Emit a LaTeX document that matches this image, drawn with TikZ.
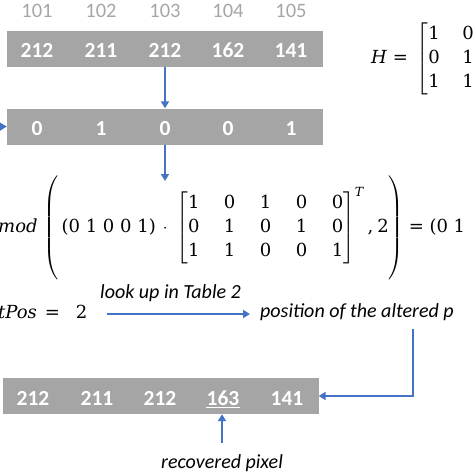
\documentclass[tikz,border=0pt]{standalone}
\usepackage{amsmath}
\usepackage{fontspec}
\setmainfont{Carlito}
\newfontfamily\mf{DejaVu Serif}
\newcommand\mi[1]{\text{\mf\itshape #1}}
\newcommand\tx[1]{\text{\mf #1}}
\usetikzlibrary{arrows.meta}
\definecolor{bargray}{HTML}{A5A5A5}
\definecolor{labgray}{HTML}{A6A6A6}
\definecolor{arrblue}{HTML}{4472C4}
\begin{document}
\begin{tikzpicture}[x=1pt,y=-1pt,
  bar/.style={fill=bargray, minimum width=316pt, minimum height=36pt, inner sep=0pt},
  barnum/.style={text=white, font=\bfseries\fontsize{21.5}{25}\selectfont, inner sep=0pt, anchor=base},
  idx/.style={text=labgray, font=\fontsize{20.5}{24}\selectfont, inner sep=0pt, anchor=base},
  note/.style={font=\itshape\fontsize{20}{24}\selectfont, inner sep=0pt, anchor=base west},
  mth/.style={font=\fontsize{18}{24}\selectfont, inner sep=0pt, anchor=base west},
  arr/.style={draw=arrblue, line width=2pt, -{Triangle[length=7pt,width=8pt]}}]
\useasboundingbox (0,0) rectangle (474,474);
\clip (0,0) rectangle (474,474);
% bars
\node[bar] (bar1) at (165,49) {};
\node[bar] (bar2) at (165,126.5) {};
\node[bar] (bar3) at (160.5,396) {};
% index labels
\foreach \x/\t [count=\i] in {37/101,101/102,165/103,228/104,291/105}
  \node[idx] (i\i) at (\x,17) {\t};
% bar 1 values
\foreach \x/\t [count=\i] in {37/212,101/211,165/212,228/162,291/141}
  \node[barnum] (a\i) at (\x,57) {\t};
% bar 2 bits
\foreach \x/\t [count=\i] in {37/0,101/1,165/0,228/0,291/1}
  \node[barnum] (b\i) at (\x,135) {\t};
% bar 3 values
\foreach \x/\t [count=\i] in {33/212,97/211,160/212,223/163,287/141}
  \node[barnum] (c\i) at (\x,405) {\t};
\draw[white, line width=1.6pt] ([yshift=-2.5pt]c4.base west) -- ([yshift=-2.5pt]c4.base east);
% H matrix
\node[mth, anchor=west] (H) at (371,59) {\setlength{\arraycolsep}{11.25pt}$\mi{H}\hspace{6pt}\tx{=}\hspace{6pt}\left[\begin{matrix}\tx1&\tx0\\\tx0&\tx1\\\tx1&\tx1\end{matrix}\right.$};
% formula
\node[mth] (f) at (-2,232) {\setlength{\arraycolsep}{12.25pt}$\mi{mod}\hspace{3pt}\left(\rule[-45pt]{0pt}{100pt}\hspace{3pt}\tx{(0 1 0 0 1)}\hspace{7pt}{\cdot}\hspace{6pt}\begin{bmatrix}\tx1&\tx0&\tx1&\tx0&\tx0\\\tx0&\tx1&\tx0&\tx1&\tx0\\\tx1&\tx1&\tx0&\tx0&\tx1\end{bmatrix}^{\mi{T}}\hspace{1pt}\tx{,}\hspace{4pt}\tx{2}\right)\hspace{2pt}\tx{= (0 1}$};
% lookup line
\node[mth] (tp) at (-2,318) {{\mf\itshape tPos}\hspace{8pt}{\mf =}\hspace{16pt}{\mf 2}};
\node[note] (lk) at (100,298) {look up in Table 2};
\node[note] (pos) at (260,317) {position of the altered p};
\coordinate (la) at (107,314);
\coordinate (lb) at (250,314);
\draw[arr] (la) -- (lb);
% recovered
\node[note, anchor=base] (rec) at (222,468) {recovered pixel};
% connectors
\coordinate (l0) at (-20,127);
\coordinate (f0) at (165,181);
\coordinate (c0) at (413,329);
\draw[arr] (bar1.south) -- (bar2.north);
\draw[arr] (l0) -- (bar2.west);
\draw[arr] (bar2.south) -- (f0);
\draw[arr] (c0) |- (bar3.east);
\draw[arr] ([yshift=11pt]rec.north) -- (rec.north |- bar3.south);
\end{tikzpicture}
\end{document}
